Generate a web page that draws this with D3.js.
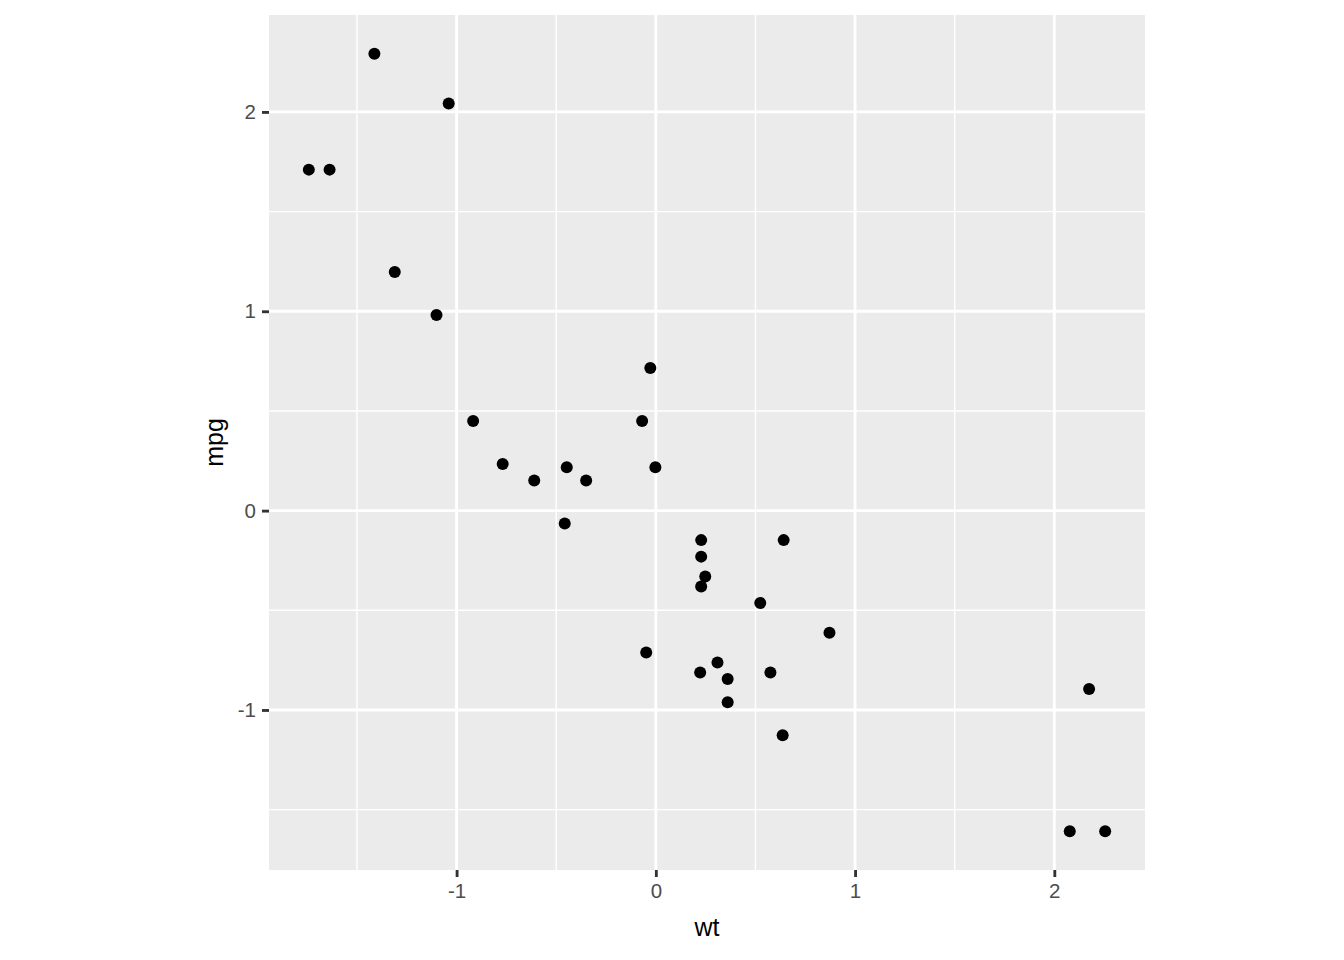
<!DOCTYPE html>
<html><head><meta charset="utf-8">
<script src="https://cdn.jsdelivr.net/npm/d3@7"></script>
<style>body{margin:0;background:#fff}svg{display:block}
.lbl{font-family:"Liberation Sans",Arial,sans-serif}</style>
</head><body>
<svg id="chart" width="1344" height="960"></svg>
<script>
const cars = ["Mazda RX4","Mazda RX4 Wag","Datsun 710","Hornet 4 Drive","Hornet Sportabout","Valiant","Duster 360","Merc 240D","Merc 230","Merc 280","Merc 280C","Merc 450SE","Merc 450SL","Merc 450SLC","Cadillac Fleetwood","Lincoln Continental","Chrysler Imperial","Fiat 128","Honda Civic","Toyota Corolla","Toyota Corona","Dodge Challenger","AMC Javelin","Camaro Z28","Pontiac Firebird","Fiat X1-9","Porsche 914-2","Lotus Europa","Ford Pantera L","Ferrari Dino","Maserati Bora","Volvo 142E"];
const wt = [-0.6104,-0.3498,-0.9170,-0.0023,0.2276,0.2480,0.3605,-0.0278,-0.0687,0.2276,0.2276,0.8715,0.5240,0.5751,2.0775,2.2553,2.1746,-1.0396,-1.6375,-1.4126,-0.7687,0.3094,0.2225,0.6365,0.6416,-1.3104,-1.1009,-1.7417,-0.0483,-0.4573,0.3605,-0.4471];
const mpg = [0.1509,0.1509,0.4495,0.2173,-0.2308,-0.3303,-0.9608,0.7150,0.4495,-0.1480,-0.3803,-0.6126,-0.4633,-0.8117,-1.6078,-1.6078,-0.8946,2.0423,1.7105,2.2912,0.2339,-0.7620,-0.8117,-1.1269,-0.1480,1.1964,0.9809,1.7105,-0.7123,-0.0647,-0.8446,0.2173];
const xTicks = [-1,0,1,2];
const yTicks = [-1,0,1,2];
const xMinor = [-1.5,-0.5,0.5,1.5];
const yMinor = [-1.5,-0.5,0.5,1.5];

const svg = d3.select("#chart");
const L=269, R=1145, T=15, B=870;
const xr = d3.extent(wt), yr = d3.extent(mpg);
const xp = (xr[1]-xr[0])*0.05, yp = (yr[1]-yr[0])*0.05;
const x = d3.scaleLinear().domain([xr[0]-xp, xr[1]+xp]).range([L,R]);
const y = d3.scaleLinear().domain([yr[0]-yp, yr[1]+yp]).range([B,T]);

svg.append("rect").attr("x",L).attr("y",T).attr("width",R-L).attr("height",B-T).attr("fill","#EBEBEB");
const g = svg.append("g");
g.selectAll(".xm").data(xMinor).join("line").attr("x1",d=>x(d)).attr("x2",d=>x(d)).attr("y1",T).attr("y2",B).attr("stroke","#fff").attr("stroke-width",1.42);
g.selectAll(".ym").data(yMinor).join("line").attr("y1",d=>y(d)).attr("y2",d=>y(d)).attr("x1",L).attr("x2",R).attr("stroke","#fff").attr("stroke-width",1.42);
g.selectAll(".xM").data(xTicks).join("line").attr("x1",d=>x(d)).attr("x2",d=>x(d)).attr("y1",T).attr("y2",B).attr("stroke","#fff").attr("stroke-width",2.85);
g.selectAll(".yM").data(yTicks).join("line").attr("y1",d=>y(d)).attr("y2",d=>y(d)).attr("x1",L).attr("x2",R).attr("stroke","#fff").attr("stroke-width",2.85);

const fmt = d => (d<0?"-":"") + Math.abs(d);
const xAxis = svg.append("g").attr("transform",`translate(0,${B})`)
  .call(d3.axisBottom(x).tickValues(xTicks).tickSize(7).tickPadding(6).tickFormat(fmt));
const yAxis = svg.append("g").attr("transform",`translate(${L},0)`)
  .call(d3.axisLeft(y).tickValues(yTicks).tickSize(7).tickPadding(6).tickFormat(fmt));
[xAxis,yAxis].forEach(a=>{
  a.attr("font-size",null).attr("font-family",null);
  a.select(".domain").remove();
  a.selectAll(".tick line").attr("stroke","#333").attr("stroke-width",2.85);
  a.selectAll(".tick text").attr("class","lbl").style("fill","#4D4D4D").style("font-size","20.5px");
});

svg.selectAll(".pt").data(wt).join("circle")
  .attr("cx",d=>x(d)).attr("cy",(d,i)=>y(mpg[i])).attr("r",6).attr("fill","#000");

svg.append("text").attr("class","lbl").attr("x",(L+R)/2).attr("y",936).attr("text-anchor","middle")
  .style("font-size","25px").style("fill","#000").text("wt");
svg.append("text").attr("class","lbl").attr("transform",`translate(223,${(T+B)/2}) rotate(-90)`).attr("text-anchor","middle")
  .style("font-size","25px").style("fill","#000").text("mpg");
</script>
</body></html>
